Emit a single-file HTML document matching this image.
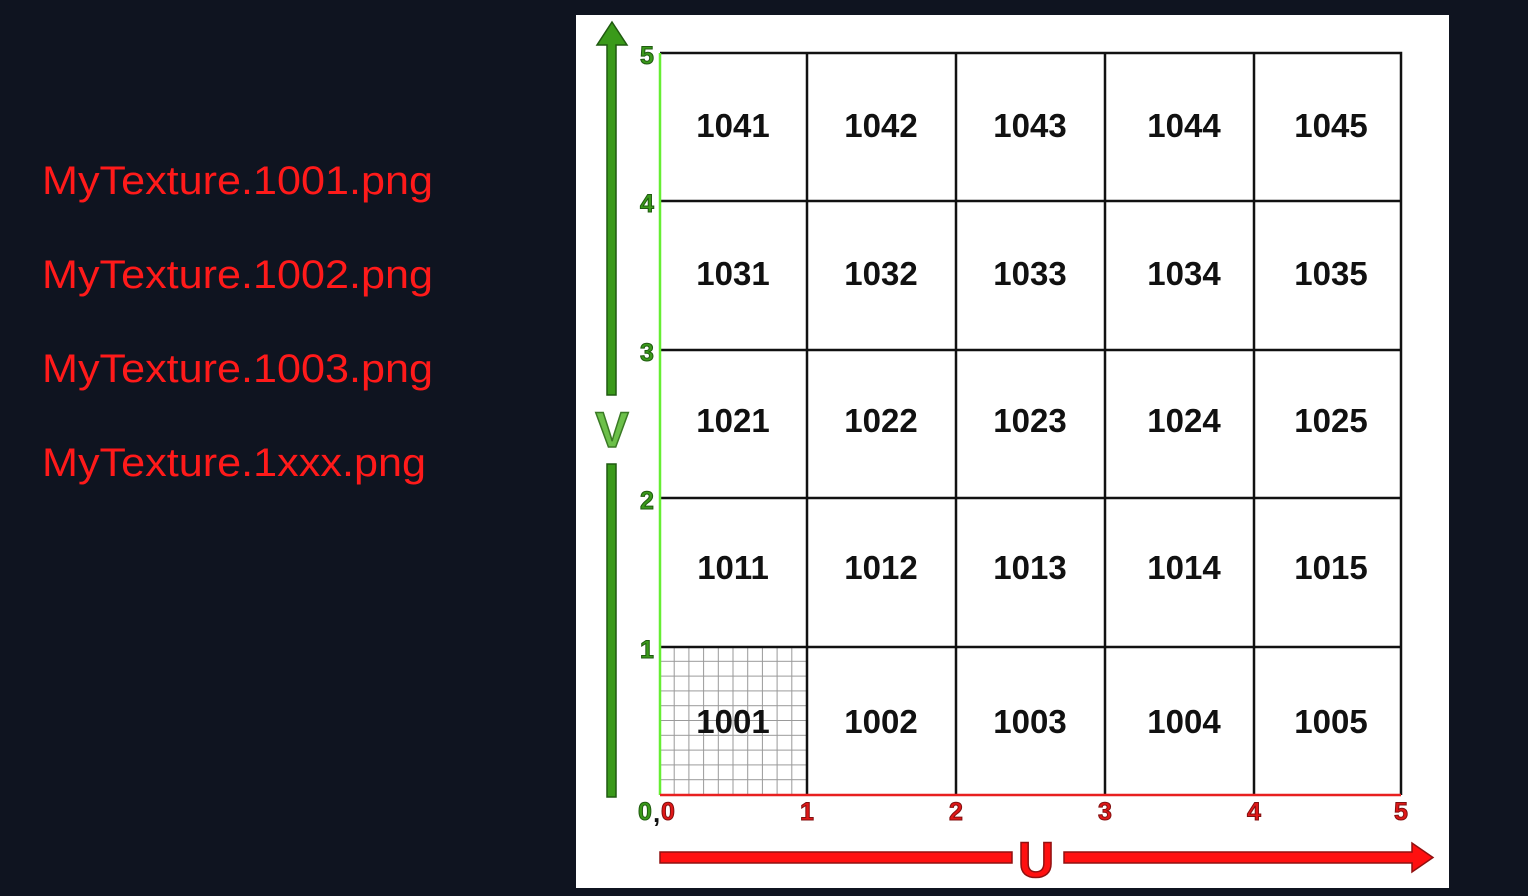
<!DOCTYPE html>
<html><head><meta charset="utf-8"><style>
html,body{margin:0;padding:0;background:#0f1420;width:1528px;height:896px;overflow:hidden}
</style></head><body>
<svg width="1528" height="896" viewBox="0 0 1528 896" xmlns="http://www.w3.org/2000/svg" font-family="Liberation Sans, sans-serif">
<defs>
<pattern id="fg" x="660" y="647" width="14.7" height="14.8" patternUnits="userSpaceOnUse">
<path d="M14.7 0V14.8M0 14.8H14.7" stroke="#999" stroke-width="2" fill="none"/>
</pattern>
</defs>
<g fill="#ff1a1a" font-size="40">
<text x="42" y="194" textLength="391" lengthAdjust="spacingAndGlyphs">MyTexture.1001.png</text>
<text x="42" y="288" textLength="391" lengthAdjust="spacingAndGlyphs">MyTexture.1002.png</text>
<text x="42" y="382" textLength="391" lengthAdjust="spacingAndGlyphs">MyTexture.1003.png</text>
<text x="42" y="476" textLength="384" lengthAdjust="spacingAndGlyphs">MyTexture.1xxx.png</text>
</g>
<rect x="576" y="15" width="873" height="873" fill="#fff"/>
<rect x="660" y="647" width="147" height="148" fill="url(#fg)"/>
<g stroke="#111" stroke-width="2.5" fill="none">
<path d="M660 53H1401V795M660 201H1401M660 350H1401M660 498H1401M660 647H1401M807 53V795M956 53V795M1105 53V795M1254 53V795"/>
</g>
<line x1="660" y1="53" x2="660" y2="795" stroke="#66ee33" stroke-width="2.5"/>
<line x1="660" y1="795" x2="1401" y2="795" stroke="#e82020" stroke-width="2.5"/>
<g font-weight="bold" font-size="33" text-anchor="middle" fill="#111">
<text x="733" y="137">1041</text><text x="881" y="137">1042</text><text x="1030" y="137">1043</text><text x="1184" y="137">1044</text><text x="1331" y="137">1045</text>
<text x="733" y="285">1031</text><text x="881" y="285">1032</text><text x="1030" y="285">1033</text><text x="1184" y="285">1034</text><text x="1331" y="285">1035</text>
<text x="733" y="432">1021</text><text x="881" y="432">1022</text><text x="1030" y="432">1023</text><text x="1184" y="432">1024</text><text x="1331" y="432">1025</text>
<text x="733" y="579">1011</text><text x="881" y="579">1012</text><text x="1030" y="579">1013</text><text x="1184" y="579">1014</text><text x="1331" y="579">1015</text>
<text x="733" y="733">1001</text><text x="881" y="733">1002</text><text x="1030" y="733">1003</text><text x="1184" y="733">1004</text><text x="1331" y="733">1005</text>
</g>
<g fill="#3a9a1a" stroke="#1f5a10" stroke-width="1.5">
<polygon points="612,22 627,45 616,45 616,395 607,395 607,45 597,45"/>
<rect x="607" y="464" width="9" height="333"/>
</g>
<text x="612" y="447" font-size="50" font-weight="bold" text-anchor="middle" fill="#6cc04a" stroke="#3a7a25" stroke-width="1.5">V</text>
<g font-weight="bold" font-size="25" fill="#3a9a1a" stroke="#1f5a10" stroke-width="1" text-anchor="middle">
<text x="647" y="64">5</text><text x="647" y="212">4</text><text x="647" y="361">3</text><text x="647" y="509">2</text><text x="647" y="658">1</text>
<text x="645" y="820">0</text>
</g>
<text x="653" y="822" font-size="26" font-weight="bold" fill="#111">,</text>
<g font-weight="bold" font-size="25" fill="#e01818" stroke="#801010" stroke-width="1" text-anchor="middle">
<text x="668" y="820">0</text><text x="807" y="820">1</text><text x="956" y="820">2</text><text x="1105" y="820">3</text><text x="1254" y="820">4</text><text x="1401" y="820">5</text>
</g>
<g fill="#ff1010" stroke="#901010" stroke-width="1.5">
<rect x="660" y="852" width="352" height="11"/>
<polygon points="1064,852 1412,852 1412,843 1433,857.5 1412,872 1412,863 1064,863"/>
</g>
<text x="1036" y="877" font-size="50" font-weight="bold" text-anchor="middle" fill="#ff1010" stroke="#901010" stroke-width="1.5">U</text>
</svg>
</body></html>
